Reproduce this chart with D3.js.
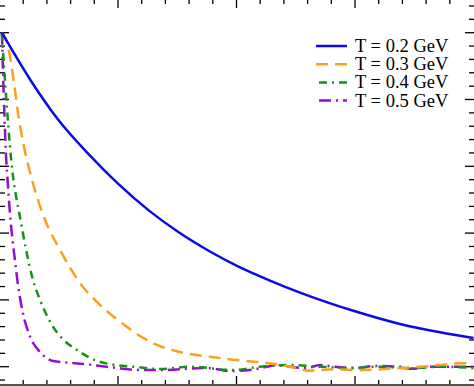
<!DOCTYPE html>
<html>
<head>
<meta charset="utf-8">
<script src="https://cdn.jsdelivr.net/npm/d3@7"></script>
<style>
  body { margin: 0; background: #fff; }
  svg { display: block; }
</style>
</head>
<body>
<script>
// curve values (x in arbitrary units, one minor tick = 1; y normalised)
var xBlue = [0.1, 1.29, 2.47, 3.82, 5.0, 6.35, 7.53, 8.88, 10.02, 11.41, 12.68, 15.0, 16.9, 18.59, 20];
var yBlue = [1.0, 0.86, 0.74, 0.632, 0.548, 0.465, 0.404, 0.345, 0.302, 0.258, 0.222, 0.166, 0.128, 0.103, 0.086];

var xOrange = [0.1, 0.27, 0.44, 0.61, 0.78, 1.03, 1.37, 1.92, 2.55, 3.4, 4.24, 5.08, 6.35, 7.74, 8.88, 9.85, 11.29, 12.26, 13.1, 14.07, 15.21, 16.48, 18.16, 19.43, 20];
var yOrange = [1.0, 0.98, 0.93, 0.85, 0.76, 0.66, 0.56, 0.44, 0.35, 0.25, 0.185, 0.135, 0.075, 0.042, 0.03, 0.021, 0.011, 0.0, -0.012, -0.008, -0.01, -0.006, 0.002, 0.01, 0.01];

var xGreen = [0.1, 0.19, 0.32, 0.44, 0.57, 0.70, 0.86, 1.12, 1.41, 1.71, 2.13, 2.68, 3.27, 3.95, 4.79, 5.63, 6.77, 8.04, 9.85, 10.99, 12.26, 13.52, 14.79, 16.05, 17.32, 18.59, 20];
var yGreen = [1.0, 0.9, 0.77, 0.66, 0.57, 0.51, 0.45, 0.35, 0.26, 0.20, 0.135, 0.082, 0.05, 0.022, 0.006, 0.0, -0.007, 0.0, -0.01, 0.0, 0.005, 0.0, -0.004, 0.0, -0.005, 0.0, -0.004];

var xPurple = [0.1, 0.15, 0.21, 0.27, 0.36, 0.44, 0.55, 0.65, 0.78, 0.99, 1.29, 1.71, 2.26, 3.1, 3.95, 4.96, 5.93, 6.77, 8.75, 9.73, 10.57, 11.29, 11.71, 12.26, 12.97, 13.52, 14.07, 15.08, 15.76, 16.9, 17.32, 18.29, 20];
var yPurple = [1.0, 0.88, 0.75, 0.64, 0.54, 0.46, 0.38, 0.32, 0.245, 0.16, 0.09, 0.044, 0.017, 0.011, 0.005, -0.004, -0.01, -0.01, -0.004, -0.013, -0.01, 0.0, 0.005, 0.0, -0.004, 0.005, 0.0, -0.004, 0.002, 0.0, -0.006, 0.0, 0.0];

var labels = ["T = 0.2 GeV", "T = 0.3 GeV", "T = 0.4 GeV", "T = 0.5 GeV"];
var colors = ["#0a0ae8", "#f7a21b", "#17901a", "#9010d0"];
var dashes = ["none", "12,7", "8,5,2,5", "12,5,2,5"];

var W = 474, H = 386;

var x = d3.scaleLinear().domain([0, 20]).range([-0.5, 473.5]);
var y = d3.scaleLinear().domain([0, 1]).range([366.7, 32.7]);

var svg = d3.select("body").append("svg")
    .attr("width", W)
    .attr("height", H);

svg.append("defs").append("clipPath").attr("id", "plot")
    .append("rect").attr("x", 0).attr("y", 0).attr("width", W).attr("height", 384);

// ticks on all four sides, minor every 1 unit / 0.04, major every 5 / 0.2
var xTicks = d3.range(1, 20);
var yTicks = d3.range(-1, 28).map(function(i) { return i * 0.04; });

var g = svg.append("g").attr("stroke", "#000").attr("stroke-width", 1.3);

xTicks.forEach(function(t) {
  var len = (t % 5 === 0) ? 8 : 4;
  g.append("line").attr("x1", x(t)).attr("x2", x(t)).attr("y1", 0).attr("y2", len);
  g.append("line").attr("x1", x(t)).attr("x2", x(t)).attr("y1", 384).attr("y2", 384 - len);
});

yTicks.forEach(function(t, i) {
  var len = ((i - 1) % 5 === 0) ? 9 : 5;
  g.append("line").attr("x1", 0).attr("x2", len).attr("y1", y(t)).attr("y2", y(t));
  g.append("line").attr("x1", W).attr("x2", W - len).attr("y1", y(t)).attr("y2", y(t));
});

// frame bottom edge
svg.append("line")
    .attr("x1", 0).attr("x2", W)
    .attr("y1", 385).attr("y2", 385)
    .attr("stroke", "#555")
    .attr("stroke-width", 2);

var series = [[xBlue, yBlue], [xOrange, yOrange], [xGreen, yGreen], [xPurple, yPurple]];

var lineFunction = d3.line()
    .x(function(d) { return x(d[0]); })
    .y(function(d) { return y(d[1]); })
    .curve(d3.curveMonotoneX);

// draw in reverse so the blue one sits on top
series.slice().reverse().forEach(function(s, j) {
  var k = series.length - 1 - j;
  var pts = d3.zip(s[0], s[1]);
  svg.append("path")
      .attr("d", lineFunction(pts))
      .attr("clip-path", "url(#plot)")
      .attr("fill", "none")
      .attr("stroke", colors[k])
      .attr("stroke-width", 2.5)
      .attr("stroke-dasharray", dashes[k]);
});

// legend
var legend = svg.append("g").attr("transform", "translate(316,46)");
labels.forEach(function(lab, i) {
  var row = legend.append("g").attr("transform", "translate(0," + (i * 18.2) + ")");
  row.append("line")
      .attr("x1", 0).attr("x2", 31)
      .attr("y1", 0).attr("y2", 0)
      .attr("stroke", colors[i])
      .attr("stroke-width", 2.5)
      .attr("stroke-dasharray", dashes[i])
      .attr("stroke-dashoffset", i === 1 ? 0 : -3);
  row.append("text")
      .attr("x", 39)
      .attr("y", 6)
      .attr("font-family", "Liberation Serif, Times New Roman, serif")
      .attr("font-size", 18.5)
      .attr("fill", "#000")
      .text(lab);
});
</script>
</body>
</html>
